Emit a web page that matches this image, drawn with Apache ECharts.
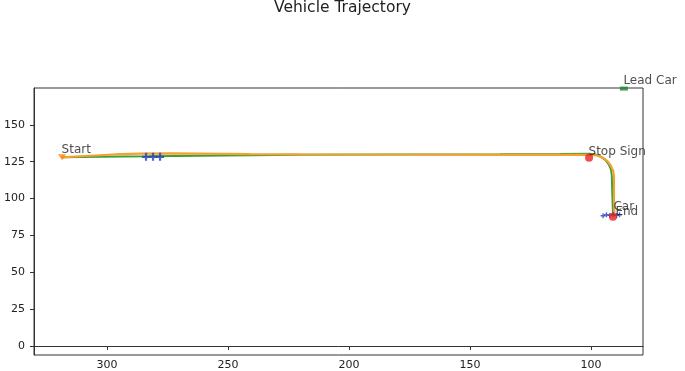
<!DOCTYPE html>
<html>
<head>
<meta charset="utf-8">
<script src="https://cdn.jsdelivr.net/npm/echarts@6/dist/echarts.min.js"></script>
<style>html,body{margin:0;padding:0;background:#fff}#c{width:685px;height:371px}</style>
</head>
<body>
<div id="c"></div>
<script>
// ---- data ----
const xTicks = [100, 150, 200, 250, 300];
const yTicks = [0, 25, 50, 75, 100, 125, 150];
const orangeX = [318.6, 311.2, 302.9, 294.7, 286.4, 274.0, 261.6, 240.9, 220.3, 179.0, 137.6, 112.8, 99.6, 97.3, 95.1, 93.2, 91.8, 90.8, 90.5, 90.5, 90.3];
const orangeY = [128.0, 128.7, 129.4, 130.1, 130.5, 130.7, 130.5, 130.2, 130.0, 129.9, 129.7, 129.7, 129.7, 129.2, 127.7, 125.4, 122.3, 118.7, 114.9, 99.3, 87.8];
const greenX = [318.6, 302.9, 282.3, 261.6, 240.9, 220.3, 179.0, 137.6, 112.8, 100.5, 98.1, 95.9, 94.0, 92.6, 91.7, 91.4, 91.1, 90.9];
const greenY = [128.0, 128.4, 128.7, 129.1, 129.4, 129.7, 129.9, 130.0, 130.2, 130.4, 129.9, 128.4, 126.1, 123.0, 119.4, 115.5, 99.3, 89.2];
const startPt = [318.6, 128.0];
const carPlusX = [283.9, 281.0, 278.1];
const carPlusY = [128.3, 128.3, 128.3];
const carEndX = [95.0, 93.6, 92.2, 90.8, 89.4, 88.2];
const carEndY = [88.4, 89.0, 88.6, 89.0, 88.6, 89.0];
const redX = [100.8, 90.9];
const redY = [127.7, 87.6];
const leadCar = [86.4, 174.6];
const labelNames = ['Start', 'Stop Sign', 'Car', 'End', 'Lead Car'];
const labelX = [318.6, 100.8, 90.5, 89.7, 86.4];
const labelY = [128.6, 127.3, 89.8, 86.9, 175.2];

const zip = (a, b) => a.map((v, i) => [v, b[i]]);
const plusPath = 'path://M0,3.6H10V6.4H0Z M3.6,0H6.4V10H3.6Z';
const txt = '#222';

const chart = echarts.init(document.getElementById('c'));
chart.setOption({
  animation: false,
  backgroundColor: '#fff',
  title: {
    text: 'Vehicle Trajectory', left: 'center', top: 0, padding: 0,
    textStyle: { fontFamily: 'DejaVu Sans', fontSize: 15.5, fontWeight: 'normal', color: txt }
  },
  grid: { left: 34, right: 42, top: 88, bottom: 15, show: true, borderColor: '#333', borderWidth: 1, backgroundColor: 'transparent' },
  xAxis: {
    type: 'value', inverse: true, min: 78.5, max: 330.2,
    splitLine: { show: false },
    axisLine: { show: true, lineStyle: { color: '#333' } },
    axisTick: { show: true, customValues: xTicks, length: 4, lineStyle: { color: '#333' } },
    axisLabel: { customValues: xTicks, margin: 5, color: txt, fontFamily: 'DejaVu Sans', fontSize: 11 }
  },
  yAxis: {
    type: 'value', min: -6.1, max: 175,
    splitLine: { show: false },
    axisLine: { show: true, lineStyle: { color: '#333' } },
    axisTick: { show: true, customValues: yTicks, length: 4, lineStyle: { color: '#333' } },
    axisLabel: { customValues: yTicks, margin: 9, color: txt, fontFamily: 'DejaVu Sans', fontSize: 11 }
  },
  series: [
    { type: 'line', data: zip(greenX, greenY), showSymbol: false, symbol: 'none', lineStyle: { color: '#3aa03a', width: 2 }, z: 2 },
    { type: 'line', data: zip(orangeX, orangeY), showSymbol: false, symbol: 'none', lineStyle: { color: '#f5a030', width: 2.2 }, z: 3 },
    { type: 'scatter', data: [startPt], symbol: 'triangle', symbolRotate: 180, symbolSize: [8, 6], itemStyle: { color: '#ff7f0e' }, z: 4 },
    { type: 'scatter', data: zip(carPlusX, carPlusY), symbol: plusPath, symbolSize: 8, itemStyle: { color: '#2341b8' }, z: 5 },
    { type: 'scatter', data: zip(carEndX, carEndY), symbol: plusPath, symbolSize: 5, itemStyle: { color: '#2341b8' }, z: 5 },
    { type: 'scatter', data: zip(redX, redY), symbol: 'circle', symbolSize: 8, itemStyle: { color: '#ee2020' }, z: 6 },
    { type: 'scatter', data: [leadCar], symbol: 'rect', symbolSize: [8, 4], clip: false, itemStyle: { color: '#1a8a2a' }, z: 6 },
    {
      type: 'scatter', clip: false, z: 10,
      data: labelNames.map((n, i) => ({ value: [labelX[i], labelY[i]], name: n })),
      symbolSize: 1, itemStyle: { color: 'transparent' },
      label: {
        show: true, formatter: p => p.name, position: [0, 0], align: 'left', verticalAlign: 'bottom',
        color: txt, fontFamily: 'DejaVu Sans', fontSize: 12
      }
    }
  ]
});
</script>
</body>
</html>
